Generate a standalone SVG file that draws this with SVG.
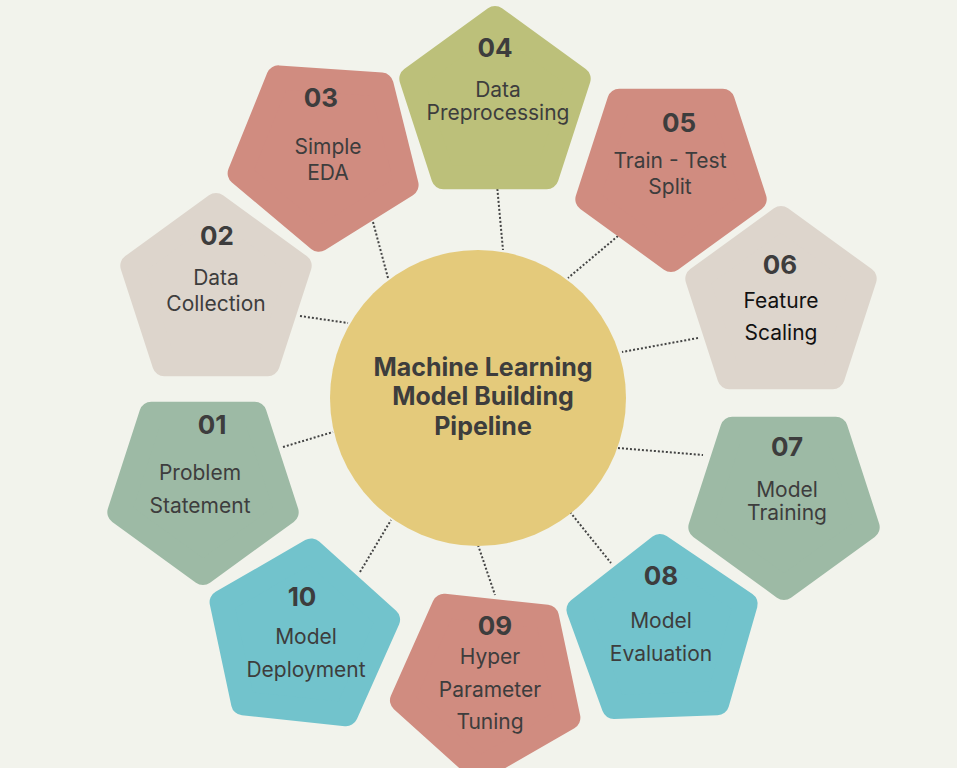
<svg xmlns="http://www.w3.org/2000/svg" width="957" height="768" viewBox="0 0 957 768">
<style>
.p{stroke-width:24;stroke-linejoin:round}
.g{fill:#9dbaa5;stroke:#9dbaa5}.b{fill:#ddd5cc;stroke:#ddd5cc}.r{fill:#d08c80;stroke:#d08c80}.o{fill:#bcc07a;stroke:#bcc07a}.c{fill:#72c3cc;stroke:#72c3cc}
text{font-family:Inter,"Liberation Sans",sans-serif;fill:#3d3d3d;text-anchor:middle;dominant-baseline:central}
.n{font-size:26px;font-weight:700}
.t{font-size:21px}
.h{font-size:25px;font-weight:700}
.k{stroke:#444;stroke-width:2;stroke-dasharray:2 2;fill:none}
</style>
<defs><path id="pg" d="M0,-88 L83.7,-27.2 L51.7,71.2 L-51.7,71.2 L-83.7,-27.2 Z"/></defs>
<rect width="957" height="768" fill="#f2f3ec"/>
<g id="connectors">
<line class="k" x1="283" y1="447" x2="333" y2="432"/>
<line class="k" x1="300" y1="316" x2="348" y2="323"/>
<line class="k" x1="373" y1="222" x2="388" y2="278"/>
<line class="k" x1="497" y1="185" x2="503" y2="250"/>
<line class="k" x1="618" y1="236" x2="568" y2="278"/>
<line class="k" x1="698" y1="338" x2="622" y2="352"/>
<line class="k" x1="618" y1="448" x2="703" y2="455"/>
<line class="k" x1="570" y1="512" x2="611" y2="563"/>
<line class="k" x1="478" y1="545" x2="495" y2="595"/>
<line class="k" x1="360" y1="572" x2="391" y2="520"/>
</g>
<g id="center"><circle cx="478" cy="398" r="148" fill="#e4ca7b"/>
<text class="h" x="483" y="367">Machine Learning</text><text class="h" x="483" y="396">Model Building</text><text class="h" x="483" y="426">Pipeline</text></g>
<g id="n01"><use href="#pg" class="p g" transform="translate(203,485) rotate(36)"/><text class="n" x="212" y="424">01</text><text class="t" x="200" y="472">Problem</text><text class="t" x="200" y="505">Statement</text></g>
<g id="n02"><use href="#pg" class="p b" transform="translate(216,293)"/><text class="n" x="217" y="235">02</text><text class="t" x="216" y="277">Data</text><text class="t" x="216" y="303">Collection</text></g>
<g id="n03"><use href="#pg" class="p r" transform="translate(325,152) rotate(40)"/><text class="n" x="321" y="97">03</text><text class="t" x="328" y="146">Simple</text><text class="t" x="328" y="172">EDA</text></g>
<g id="n04"><use href="#pg" class="p o" transform="translate(495,106)"/><text class="n" x="495" y="47">04</text><text class="t" x="498" y="89">Data</text><text class="t" x="498" y="112">Preprocessing</text></g>
<g id="n05"><use href="#pg" class="p r" transform="translate(671,172) rotate(36)"/><text class="n" x="679" y="122">05</text><text class="t" x="670" y="160">Train - Test</text><text class="t" x="670" y="186">Split</text></g>
<g id="n06"><use href="#pg" class="p b" transform="translate(781,306)"/><text class="n" x="780" y="264">06</text><text class="t" x="781" y="300" style="fill:#111">Feature</text><text class="t" x="781" y="332" style="fill:#111">Scaling</text></g>
<g id="n07"><use href="#pg" class="p g" transform="translate(784,500) rotate(36)"/><text class="n" x="787" y="446">07</text><text class="t" x="787" y="489">Model</text><text class="t" x="787" y="512">Training</text></g>
<g id="n08"><use href="#pg" class="p c" transform="translate(663,634) rotate(-2)"/><text class="n" x="661" y="575">08</text><text class="t" x="661" y="620">Model</text><text class="t" x="661" y="653">Evaluation</text></g>
<g id="n09"><use href="#pg" class="p r" transform="translate(488,682) rotate(42)"/><text class="n" x="495" y="625">09</text><text class="t" x="490" y="656">Hyper</text><text class="t" x="490" y="689">Parameter</text><text class="t" x="490" y="721">Tuning</text></g>
<g id="n10"><use href="#pg" class="p c" transform="translate(302,638) rotate(6)"/><text class="n" x="302" y="596">10</text><text class="t" x="306" y="636">Model</text><text class="t" x="306" y="669">Deployment</text></g>
</svg>
